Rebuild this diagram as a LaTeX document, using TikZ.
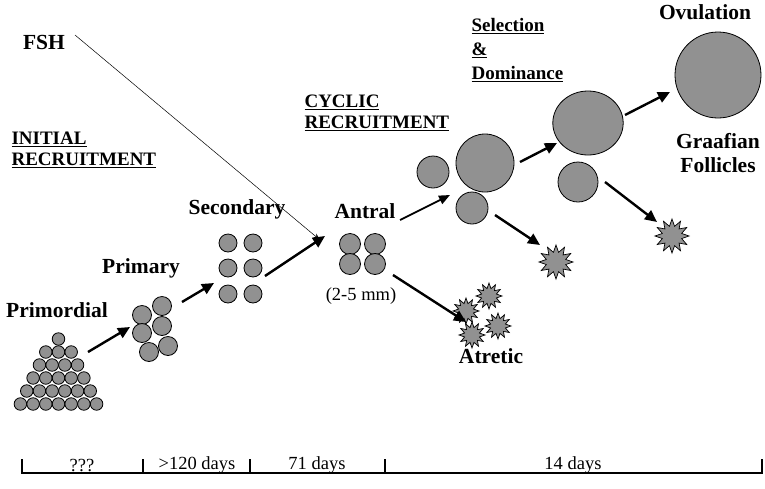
\documentclass[tikz,border=0pt]{standalone}
\usepackage{fontspec}
\setmainfont{Liberation Serif}
\usetikzlibrary{shapes.geometric,arrows.meta}
\definecolor{folgray}{RGB}{145,145,145}
\begin{document}
\begin{tikzpicture}[x=1pt,y=-1pt,
  fol/.style={circle,draw=black,line width=0.8pt,fill=folgray,inner sep=0pt,minimum size=#1},
  atr/.style={star,star points=12,star point ratio=1.7,draw=black,line width=0.7pt,fill=folgray,inner sep=0pt,minimum size=#1},
  big/.style={font=\fontsize{21.5}{24}\selectfont\bfseries},
  head/.style={font=\fontsize{19}{21}\selectfont\bfseries,align=left},
  arr/.style={-{Triangle[length=12pt,width=11pt]},line width=2.4pt},
  tl/.style={line width=2.4pt},
  lab/.style={font=\fontsize{18.5}{20}\selectfont}]
\useasboundingbox (0,0) rectangle (765,488);
% texts
\node[big] (fsh) at (44,42) {FSH};
\node[head,anchor=west] (init) at (8,150) {\underline{INITIAL}\\\underline{RECRUITMENT}};
\node[head,anchor=west] (cyc) at (301,113) {\underline{CYCLIC}\\\underline{RECRUITMENT}};
\node[head,anchor=west,font=\fontsize{19}{24}\selectfont\bfseries] (sel) at (468,50) {\underline{Selection}\\\underline{\&}\\\underline{Dominance}};
\node[big] (ovu) at (705,12) {Ovulation};
\node[big,align=center] (gra) at (718,153) {Graafian\\Follicles};
\node[big] (prim) at (57,310) {Primordial};
\node[big] (pri) at (141,268) {Primary};
\node[big] (sec) at (237,209) {Secondary};
\node[big] (ant) at (365,211) {Antral};
\node[lab] (mm) at (361,296) {(2-5 mm)};
\node[big] (atr) at (491,356) {Atretic};
% primordial pyramid
\foreach \n [count=\r from 0] in {1,3,4,5,6,7}{
  \foreach \i in {1,...,\n}{
    \node[fol=12.5pt] at ({58.5+(\i-(\n+1)/2)*12.7},{339+\r*13}) {};
  }
}
% primary
\node[fol=19pt] (p1) at (142,315) {};
\node[fol=19pt] (p2) at (162,306) {};
\node[fol=19pt] (p3) at (142,333) {};
\node[fol=19pt] (p4) at (162,326) {};
\node[fol=19pt] (p5) at (149,352) {};
\node[fol=19pt] (p6) at (168,346) {};
% secondary
\foreach \x in {228,253}{\foreach \y in {243,268,294}{\node[fol=18pt] at (\x,\y) {};}}
% antral
\node[fol=21pt] (a1) at (350,244) {};
\node[fol=21pt] (a2) at (375,244) {};
\node[fol=21pt] (a3) at (350,264) {};
\node[fol=21pt] (a4) at (375,264) {};
% later follicles
\node[fol=32pt] (c1) at (433,172) {};
\node[fol=58pt] (c2) at (485,163) {};
\node[fol=32pt] (c3) at (472,208) {};
\node[circle,draw=black,line width=0.8pt,fill=folgray,inner sep=0pt,minimum size=64pt,xscale=1.1] (c4) at (588,123) {};
\node[fol=40pt] (c5) at (578,182) {};
\node[fol=86pt] (c6) at (718,75) {};
% atretic
\node[atr=26pt] (s1) at (466,311) {};
\node[atr=26pt] (s2) at (489,296) {};
\node[atr=26pt] (s3) at (498,326) {};
\node[atr=26pt] (s4) at (472,335) {};
\node[atr=34pt] (s5) at (556,262) {};
\node[atr=34pt] (s6) at (672,236) {};
% arrows
\coordinate (f0) at (75,35); \coordinate (f1) at (320,240);
\draw[-{Stealth[length=7pt,width=5pt]},line width=0.5pt] (f0) -- (f1);
\coordinate (a0) at (88,352); \coordinate (a1e) at (130,327);
\draw[arr] (a0) -- (a1e);
\coordinate (b0) at (182,302); \coordinate (b1) at (214,283);
\draw[arr] (b0) -- (b1);
\coordinate (d0) at (265,276); \coordinate (d1) at (325,236);
\draw[arr] (d0) -- (d1);
\coordinate (e0) at (400,220); \coordinate (e1) at (450,195);
\draw[-{Triangle[length=11pt,width=9pt]},line width=1.8pt] (e0) -- (e1);
\coordinate (g0) at (393,275); \coordinate (g1) at (466,322);
\draw[arr] (g0) -- (g1);
\coordinate (h0) at (495,215); \coordinate (h1) at (540,245);
\draw[arr] (h0) -- (h1);
\coordinate (i0) at (520,162); \coordinate (i1) at (557,143);
\draw[arr] (i0) -- (i1);
\coordinate (j0) at (625,115); \coordinate (j1) at (670,92);
\draw[arr] (j0) -- (j1);
\coordinate (k0) at (605,182); \coordinate (k1) at (657,222);
\draw[arr] (k0) -- (k1);
% timeline
\coordinate (t0) at (22,473); \coordinate (t1) at (762,473);
\draw[tl] (t0) -- (t1);
\foreach \x in {22,143,250,385,762}{\draw[tl] (\x,459) -- (\x,474);}
\node[lab] (l1) at (82,465) {???};
\node[lab] (l2) at (197,465) {>120 days};
\node[lab] (l3) at (317,465) {71 days};
\node[lab] (l4) at (573,465) {14 days};
\end{tikzpicture}
\end{document}
